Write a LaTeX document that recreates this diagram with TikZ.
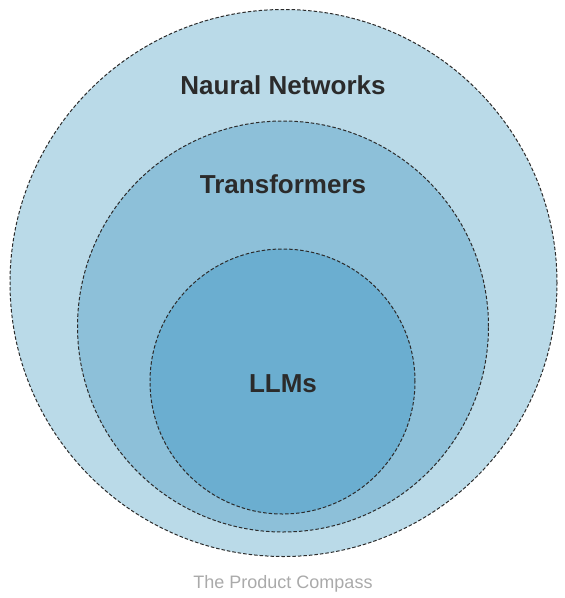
\documentclass[tikz,border=0pt]{standalone}
\usepackage{fontspec}
\setmainfont{Liberation Sans}
\definecolor{ringA}{HTML}{BADAE8}
\definecolor{ringB}{HTML}{8DC0D9}
\definecolor{ringC}{HTML}{6BAED0}
\definecolor{inkdark}{HTML}{2B2B2B}
\definecolor{inkgray}{HTML}{AAAAAA}
\tikzset{
  ring/.style={circle, draw=inkdark, line width=1pt, dash pattern=on 3.5pt off 2pt, inner sep=0pt},
  ringlabel/.style={anchor=base, text=inkdark, font=\fontsize{26}{30}\selectfont\bfseries},
}
\begin{document}
\begin{tikzpicture}[x=1pt,y=-1pt]
    \useasboundingbox (0,0) rectangle (565,598);
    \node[ring, fill=ringA, minimum size=547pt] (outer) at (283.5,283) {};
    \node[ring, fill=ringB, minimum size=411pt] (middle) at (283,326.5) {};
    \node[ring, fill=ringC, minimum size=265pt] (inner) at (282.5,381.5) {};
    \node[ringlabel] (nets) at (283,94) {Naural Networks};
    \node[ringlabel] (trans) at (283,193) {Transformers};
    \node[ringlabel] (llms) at (283,392) {LLMs};
    \node[anchor=base, text=inkgray, font=\fontsize{18}{21}\selectfont] (credit) at (283,588) {The Product Compass};
\end{tikzpicture}
\end{document}
